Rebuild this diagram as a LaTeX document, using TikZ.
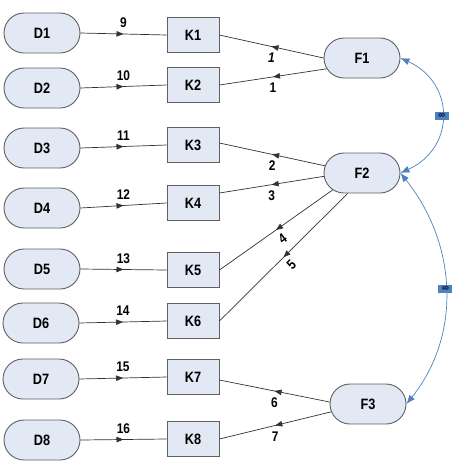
\documentclass[tikz,border=0pt]{standalone}
\usepackage{fontspec}
\setmainfont{Liberation Sans}[FakeStretch=0.85]
\usetikzlibrary{shapes.misc,arrows.meta,positioning,decorations.markings}

\definecolor{boxfill}{RGB}{226,233,245}
\definecolor{boxline}{RGB}{95,95,95}
\definecolor{linkgray}{RGB}{50,50,50}
\definecolor{corblue}{RGB}{79,129,189}
\definecolor{labnavy}{RGB}{15,25,70}

\tikzset{
  dnode/.style={rounded rectangle, draw=boxline, fill=boxfill, line width=0.9pt,
    minimum width=76pt, minimum height=40pt, inner sep=0pt,
    font=\bfseries\fontsize{15}{17}\selectfont},
  knode/.style={rectangle, draw=boxline, fill=boxfill, line width=0.9pt,
    minimum width=52pt, minimum height=35pt, inner sep=0pt,
    font=\bfseries\fontsize{15}{17}\selectfont},
  midarrow/.style={draw=linkgray, line width=0.7pt, postaction={decorate},
    decoration={markings, mark=at position 0.5 with {\arrow{Triangle[length=7pt,width=5.5pt]}}}},
  wlabel/.style={font=\bfseries\fontsize{14}{16}\selectfont, inner sep=2pt},
  corr/.style={draw=corblue, line width=0.7pt, {Latex[length=9pt,width=7pt]}-{Latex[length=9pt,width=7pt]}},
  corlabel/.style={fill=corblue, text=labnavy, inner sep=0pt, minimum width=14pt,
    minimum height=8pt, font=\bfseries\fontsize{9}{9}\selectfont}
}

\begin{document}
\begin{tikzpicture}[x=1pt, y=-1pt]
  \useasboundingbox (0,0) rectangle (474,467);

  % indicators D and items K, with the weights between them
  \foreach \i/\dx/\dy/\ky/\w in {1/42/33/35/9, 2/42/88/85/10, 3/42/148/145/11, 4/42/208/203/12,
                                 5/42/269/270/13, 6/41/323/321/14, 7/41/379/377/15, 8/42/440/439/16} {
    \node[dnode] (D\i) at (\dx,\dy) {D\i};
    \node[knode] (K\i) at (193,\ky) {K\i};
    \draw[midarrow] (D\i.east) -- node[midway, above=4pt, wlabel] {\w} (K\i.west);
  }

  % factors
  \node[dnode] (F1) at (362,58) {F1};
  \node[dnode] (F2) at (362,173) {F2};
  \node[dnode] (F3) at (368,404) {F3};

  % loadings
  \draw[midarrow] (F1.180) -- node[midway, below=4pt, wlabel] {\textit{1}} (K1.east);
  \draw[midarrow] (F1.197) -- node[midway, below=4pt, wlabel] {1} (K2.east);
  \draw[midarrow] (F2.169) -- node[midway, below=4pt, wlabel] {2} ([yshift=2pt]K3.east);
  \draw[midarrow] (F2.185) -- node[midway, below=4pt, wlabel] {3} ([yshift=10pt]K4.east);
  \draw[midarrow] (F2.210) -- node[midway, below=4pt, sloped, wlabel] {4} (K5.east);
  \draw[midarrow] (F2.235) -- node[midway, below=4pt, sloped, wlabel] {5} (K6.east);
  \draw[midarrow] (F3.177) -- node[midway, below=4pt, wlabel] {6} ([yshift=-3pt]K7.east);
  \draw[midarrow] (F3.192) -- node[midway, below=4pt, wlabel] {7} (K8.east);

  % correlations between factors
  \draw[corr] (F1.east) .. controls +(55,25) and +(55,-25) .. node[pos=0.5, corlabel] (r12) {\rotatebox{90}{8}} (F2.east);
  \draw[corr] (F2.east) .. controls +(56,70) and +(56,-70) .. node[pos=0.5, corlabel] (r23) {\rotatebox{90}{8}} (F3.east);
\end{tikzpicture}
\end{document}
